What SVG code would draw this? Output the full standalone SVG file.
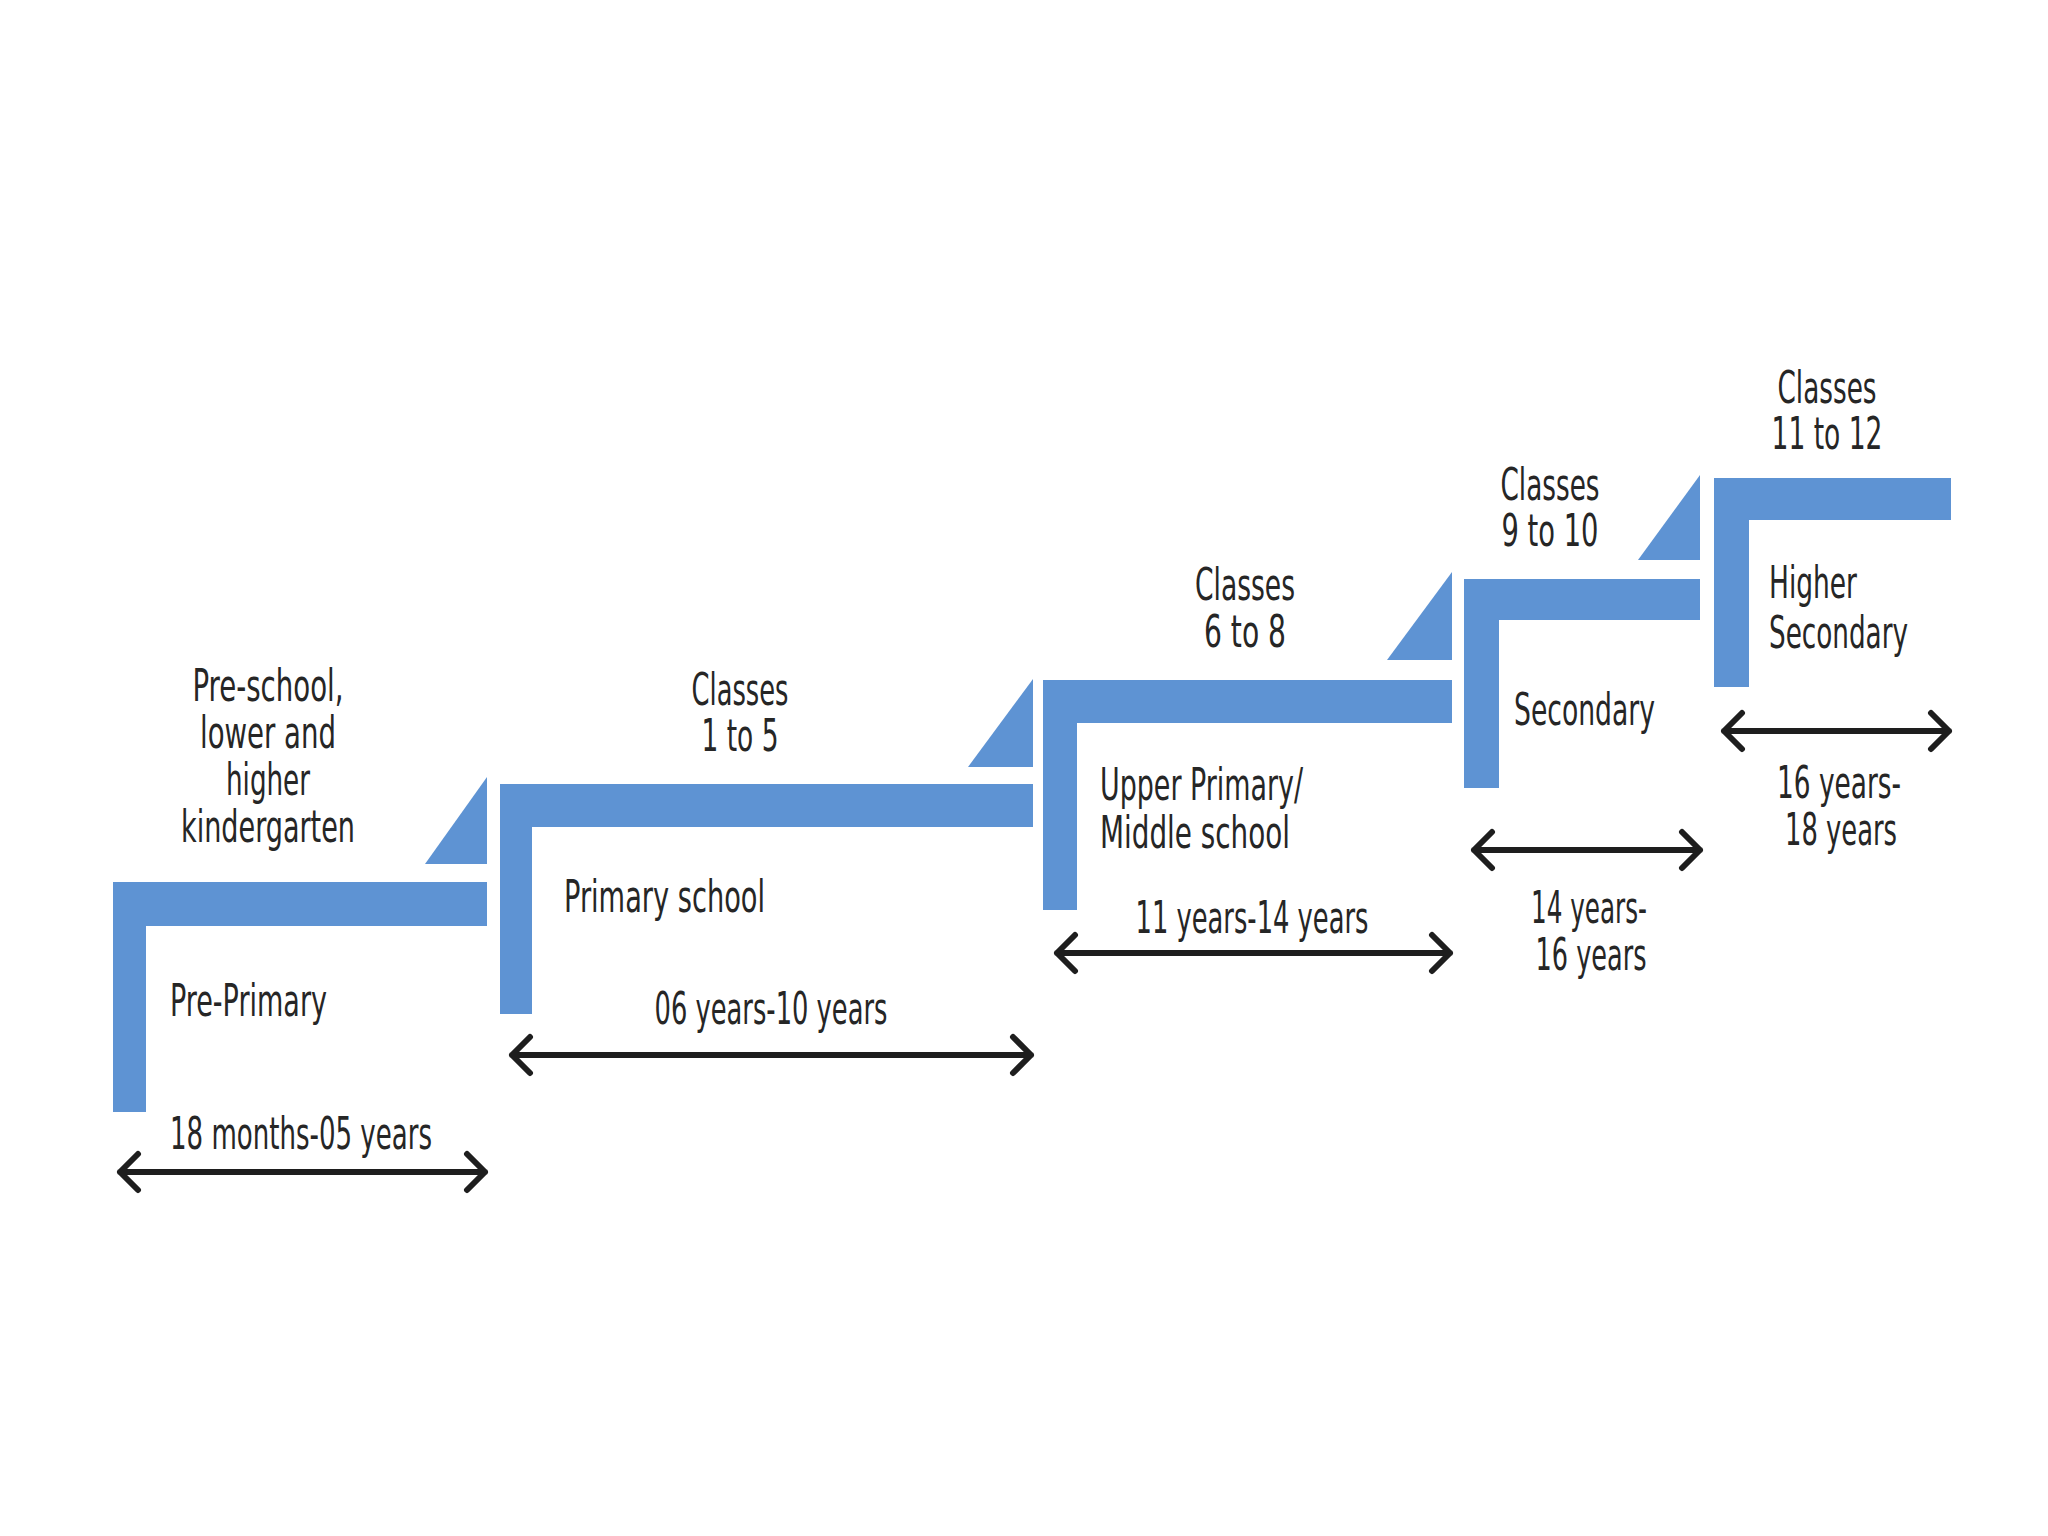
<svg xmlns="http://www.w3.org/2000/svg" width="2048" height="1536" viewBox="0 0 2048 1536">
<style>
.b{fill:#5e93d3}
text{font-family:"DejaVu Sans Condensed","Liberation Sans",sans-serif;font-size:44px;fill:#262626}
.m{text-anchor:middle}
.a{stroke:#1e1e1e;stroke-width:6;fill:none;stroke-linecap:round;stroke-linejoin:round}
</style>
<rect width="2048" height="1536" fill="#fff"/>
<g id="pre-primary">
<path class="b" d="M113 882H487V926H146V1112H113Z"/>
<path class="b" d="M487 777V864H425Z"/>
<text x="170" y="1016" textLength="157" lengthAdjust="spacingAndGlyphs">Pre-Primary</text>
<text class="m" x="268" y="701" textLength="151" lengthAdjust="spacingAndGlyphs">Pre-school,</text>
<text class="m" x="268" y="748" textLength="136" lengthAdjust="spacingAndGlyphs">lower and</text>
<text class="m" x="268" y="795" textLength="84" lengthAdjust="spacingAndGlyphs">higher</text>
<text class="m" x="268" y="842" textLength="174" lengthAdjust="spacingAndGlyphs">kindergarten</text>
<text class="m" x="301" y="1149" textLength="262" lengthAdjust="spacingAndGlyphs">18 months-05 years</text>
</g>
<g id="primary">
<path class="b" d="M500 784H1033V827H532V1014H500Z"/>
<path class="b" d="M1033 679V767H968Z"/>
<text x="564" y="912" textLength="201" lengthAdjust="spacingAndGlyphs">Primary school</text>
<text class="m" x="740" y="705" textLength="97" lengthAdjust="spacingAndGlyphs">Classes</text>
<text class="m" x="740" y="751" textLength="77" lengthAdjust="spacingAndGlyphs">1 to 5</text>
<text class="m" x="771" y="1024" textLength="233" lengthAdjust="spacingAndGlyphs">06 years-10 years</text>
</g>
<g id="upper-primary">
<path class="b" d="M1043 680H1452V723H1077V910H1043Z"/>
<path class="b" d="M1452 572V660H1387Z"/>
<text x="1100" y="800" textLength="203" lengthAdjust="spacingAndGlyphs">Upper Primary/</text>
<text x="1100" y="848" textLength="190" lengthAdjust="spacingAndGlyphs">Middle school</text>
<text class="m" x="1245" y="600" textLength="100" lengthAdjust="spacingAndGlyphs">Classes</text>
<text class="m" x="1245" y="647" textLength="82" lengthAdjust="spacingAndGlyphs">6 to 8</text>
<text class="m" x="1252" y="933" textLength="233" lengthAdjust="spacingAndGlyphs">11 years-14 years</text>
</g>
<g id="secondary">
<path class="b" d="M1464 579H1700V620H1499V788H1464Z"/>
<path class="b" d="M1700 475V560H1638Z"/>
<text x="1514" y="725" textLength="141" lengthAdjust="spacingAndGlyphs">Secondary</text>
<text class="m" x="1550" y="500" textLength="99" lengthAdjust="spacingAndGlyphs">Classes</text>
<text class="m" x="1550" y="546" textLength="97" lengthAdjust="spacingAndGlyphs">9 to 10</text>
<text class="m" x="1589" y="923" textLength="116" lengthAdjust="spacingAndGlyphs">14 years-</text>
<text class="m" x="1591" y="970" textLength="111" lengthAdjust="spacingAndGlyphs">16 years</text>
</g>
<g id="higher-secondary">
<path class="b" d="M1714 478H1951V520H1749V687H1714Z"/>
<text x="1769" y="598" textLength="88" lengthAdjust="spacingAndGlyphs">Higher</text>
<text x="1769" y="648" textLength="139" lengthAdjust="spacingAndGlyphs">Secondary</text>
<text class="m" x="1827" y="403" textLength="99" lengthAdjust="spacingAndGlyphs">Classes</text>
<text class="m" x="1827" y="449" textLength="111" lengthAdjust="spacingAndGlyphs">11 to 12</text>
<text class="m" x="1839" y="798" textLength="124" lengthAdjust="spacingAndGlyphs">16 years-</text>
<text class="m" x="1841" y="845" textLength="112" lengthAdjust="spacingAndGlyphs">18 years</text>
</g>
<g id="connectors">
<path class="a" d="M120 1172H485M138 1154L120 1172L138 1190M467 1154L485 1172L467 1190"/>
<path class="a" d="M512 1055H1031M530 1037L512 1055L530 1073M1013 1037L1031 1055L1013 1073"/>
<path class="a" d="M1057 953H1450M1075 935L1057 953L1075 971M1432 935L1450 953L1432 971"/>
<path class="a" d="M1474 850H1700M1492 832L1474 850L1492 868M1682 832L1700 850L1682 868"/>
<path class="a" d="M1724 731H1949M1742 713L1724 731L1742 749M1931 713L1949 731L1931 749"/>
</g>
</svg>
